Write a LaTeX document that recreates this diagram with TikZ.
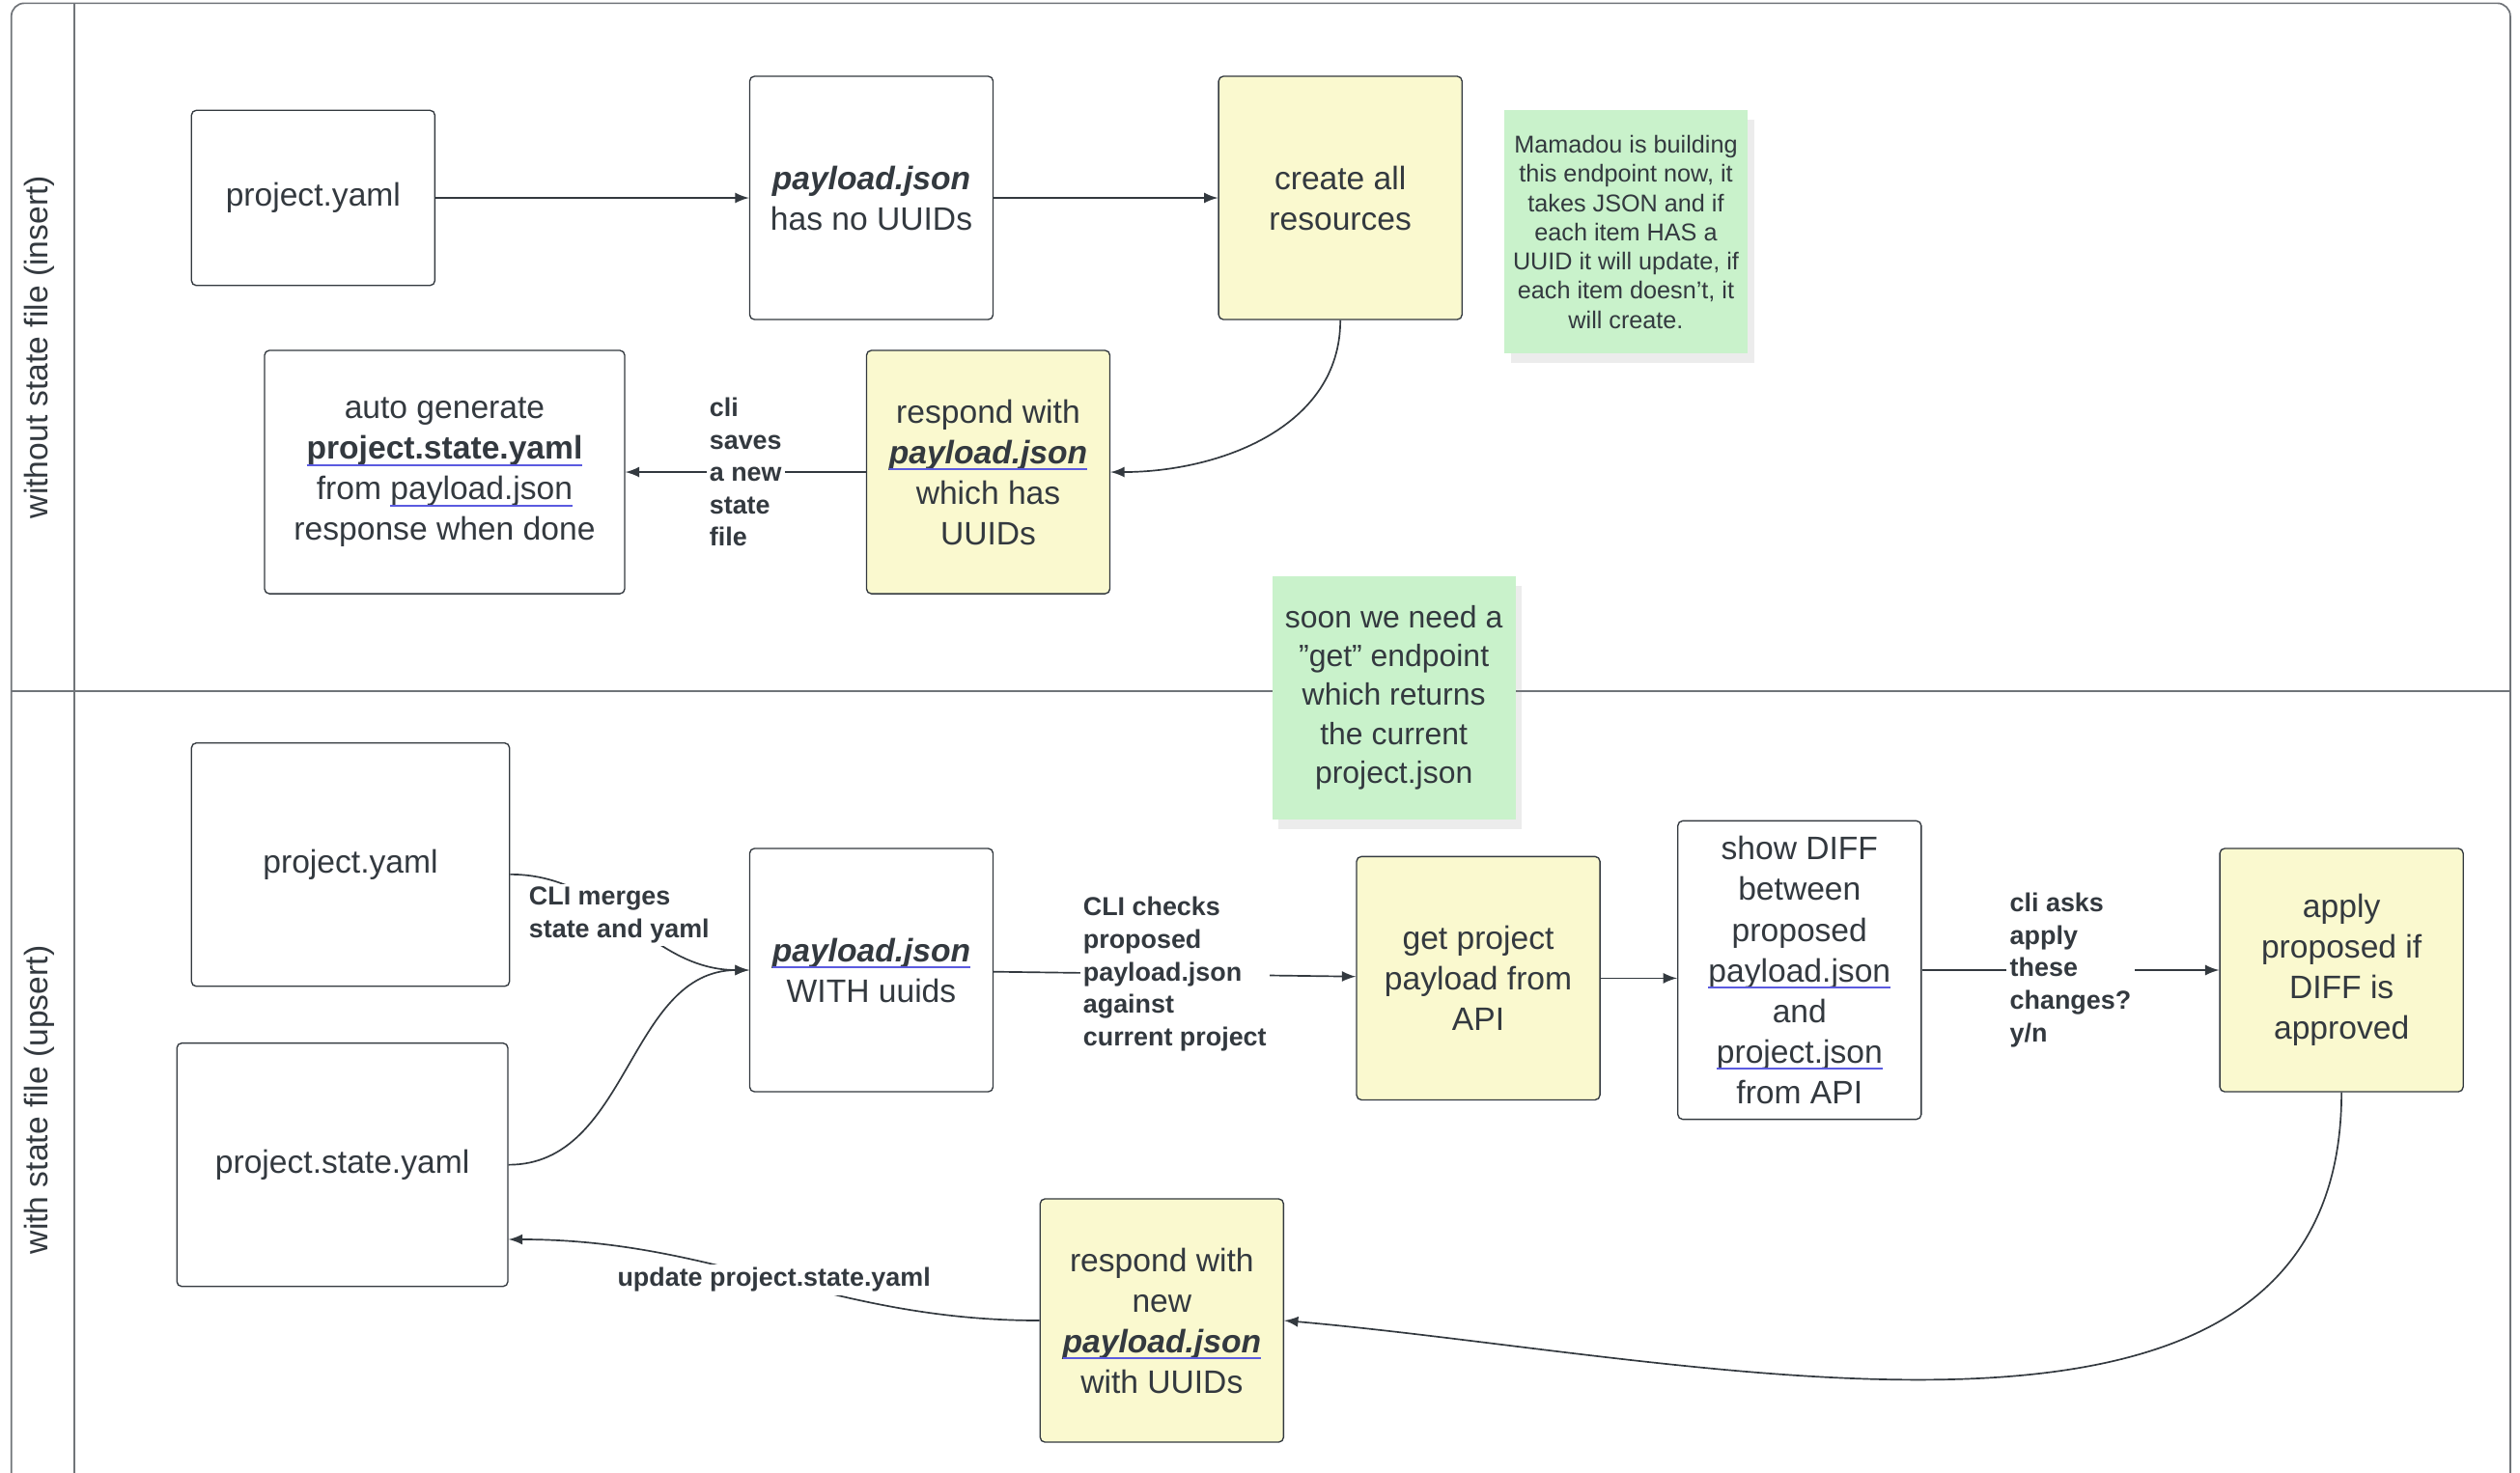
\documentclass[tikz,border=0pt]{standalone}
\usepackage{fontspec}
\setmainfont{Liberation Sans}
\usetikzlibrary{shadows}
\definecolor{ink}{HTML}{33393F}
\definecolor{paleyellow}{HTML}{FAF9CF}
\definecolor{palegreen}{HTML}{C9F2CB}
\definecolor{squig}{HTML}{5B5BE0}
\newsavebox\bulbox
\newcommand\bul[1]{\sbox\bulbox{#1}\rlap{\usebox\bulbox}\textcolor{squig}{\rule[-0.4ex]{\wd\bulbox}{0.6pt}}}
\tikzset{
  box/.style={draw=ink,rounded corners=1.5pt,fill=white,text=ink,align=center,
    minimum width=75pt,minimum height=75pt,font=\fontsize{10}{12.5}\selectfont,inner sep=2pt},
  yel/.style={box,fill=paleyellow},
  note/.style={fill=palegreen,text=ink,align=center,inner sep=2pt,
    minimum width=75pt,minimum height=75pt,drop shadow={shadow xshift=2pt,shadow yshift=-3pt,opacity=0.15}},
  lbl/.style={text=ink,align=left,font=\bfseries\fontsize{8}{10}\selectfont,inner sep=1pt},
  arr/.style={draw=ink,-latex,line width=0.5pt},
}
\begin{document}
\begin{tikzpicture}[x=0.5pt,y=-0.5pt]
\useasboundingbox (0,0) rectangle (1553,908);
% Drawing lanes
\draw[ink!70,line width=0.5pt,rounded corners=4pt] (7,908) -- (7,2) -- (1547,2) -- (1547,908);
\draw[ink!70,line width=0.5pt] (46,2) -- (46,908);
\draw[ink!70,line width=0.5pt] (7,426) -- (1547,426);
\node[rotate=90,text=ink,font=\fontsize{10}{12}\selectfont] (insertlane) at (24,214) {without state file (insert)};
\node[rotate=90,text=ink,font=\fontsize{10}{12}\selectfont] (upsertlane) at (24,678) {with state file (upsert)};
% Top lane: insert
\node[box,minimum height=54pt] (yamlA) at (193,122) {project.yaml};
\node[box] (payloadA) at (537,122) {\textbf{\textit{payload.json}}\\has no UUIDs};
\node[yel] (createA) at (826,122) {create all\\resources};
\node[note,font=\fontsize{7.5}{9}\selectfont] (noteA) at (1002,143) {Mamadou is building\\this endpoint now, it\\takes JSON and if\\each item HAS a\\UUID it will update, if\\each item doesn't, it\\will create.};
\node[yel] (respondA) at (609,291) {respond with\\\textbf{\textit{\bul{payload.json}}}\\which has\\UUIDs};
\node[box,minimum width=111pt] (stateA) at (274,291) {auto generate\\\textbf{\bul{project.state.yaml}}\\from \bul{payload.json}\\response when done};
\draw[arr] (yamlA) -- (payloadA);
\draw[arr] (payloadA) -- (createA);
\draw[arr] (createA.south) to[out=-90,in=0] (respondA.east);
\draw[arr] (respondA) -- (stateA) node[lbl,midway,fill=white] (savesA) {cli\\saves\\a new\\state\\file};
% Bottom lane: upsert
\node[box,minimum width=98pt] (yamlB) at (216,533) {project.yaml};
\node[box,minimum width=102pt] (stateB) at (211,718) {project.state.yaml};
\node[box] (payloadB) at (537,598) {\textbf{\textit{\bul{payload.json}}}\\WITH uuids};
\node[note,font=\fontsize{9.5}{12}\selectfont] (noteB) at (859,430) {soon we need a\\"get" endpoint\\which returns\\the current\\project.json};
\node[yel] (getB) at (911,603) {get project\\payload from\\API};
\node[box,minimum height=92pt] (diffB) at (1109,598) {show DIFF\\between\\proposed\\\bul{payload.json}\\and\\\bul{project.json}\\from API};
\node[yel] (applyB) at (1443,598) {apply\\proposed if\\DIFF is\\approved};
\node[yel] (respondB) at (716,814) {respond with\\new\\\textbf{\textit{\bul{payload.json}}}\\with UUIDs};
\draw[arr] ([yshift=-3pt]yamlB.east) to[out=0,in=180] node[lbl,pos=0.45,fill=white] (mergeB) {CLI merges\\state and yaml} (payloadB.west);
\draw[arr] (stateB.east) to[out=0,in=180] (payloadB.west);
\draw[arr] (payloadB) -- (getB) node[lbl,midway,fill=white] (checkB) {CLI checks\\proposed\\payload.json\\against\\current project};
\draw[arr] (getB) -- (diffB.west |- getB);
\draw[arr] (diffB) -- (applyB) node[lbl,midway,fill=white] (askB) {cli asks\\apply\\these\\changes?\\y/n};
\draw[arr] (applyB.south) to[out=-90,in=-5] (respondB.east);
\draw[arr] (respondB.west) to[out=180,in=0] node[lbl,pos=0.5,fill=white] (updateB) {update project.state.yaml} ([yshift=-23pt]stateB.east);
\end{tikzpicture}
\end{document}
